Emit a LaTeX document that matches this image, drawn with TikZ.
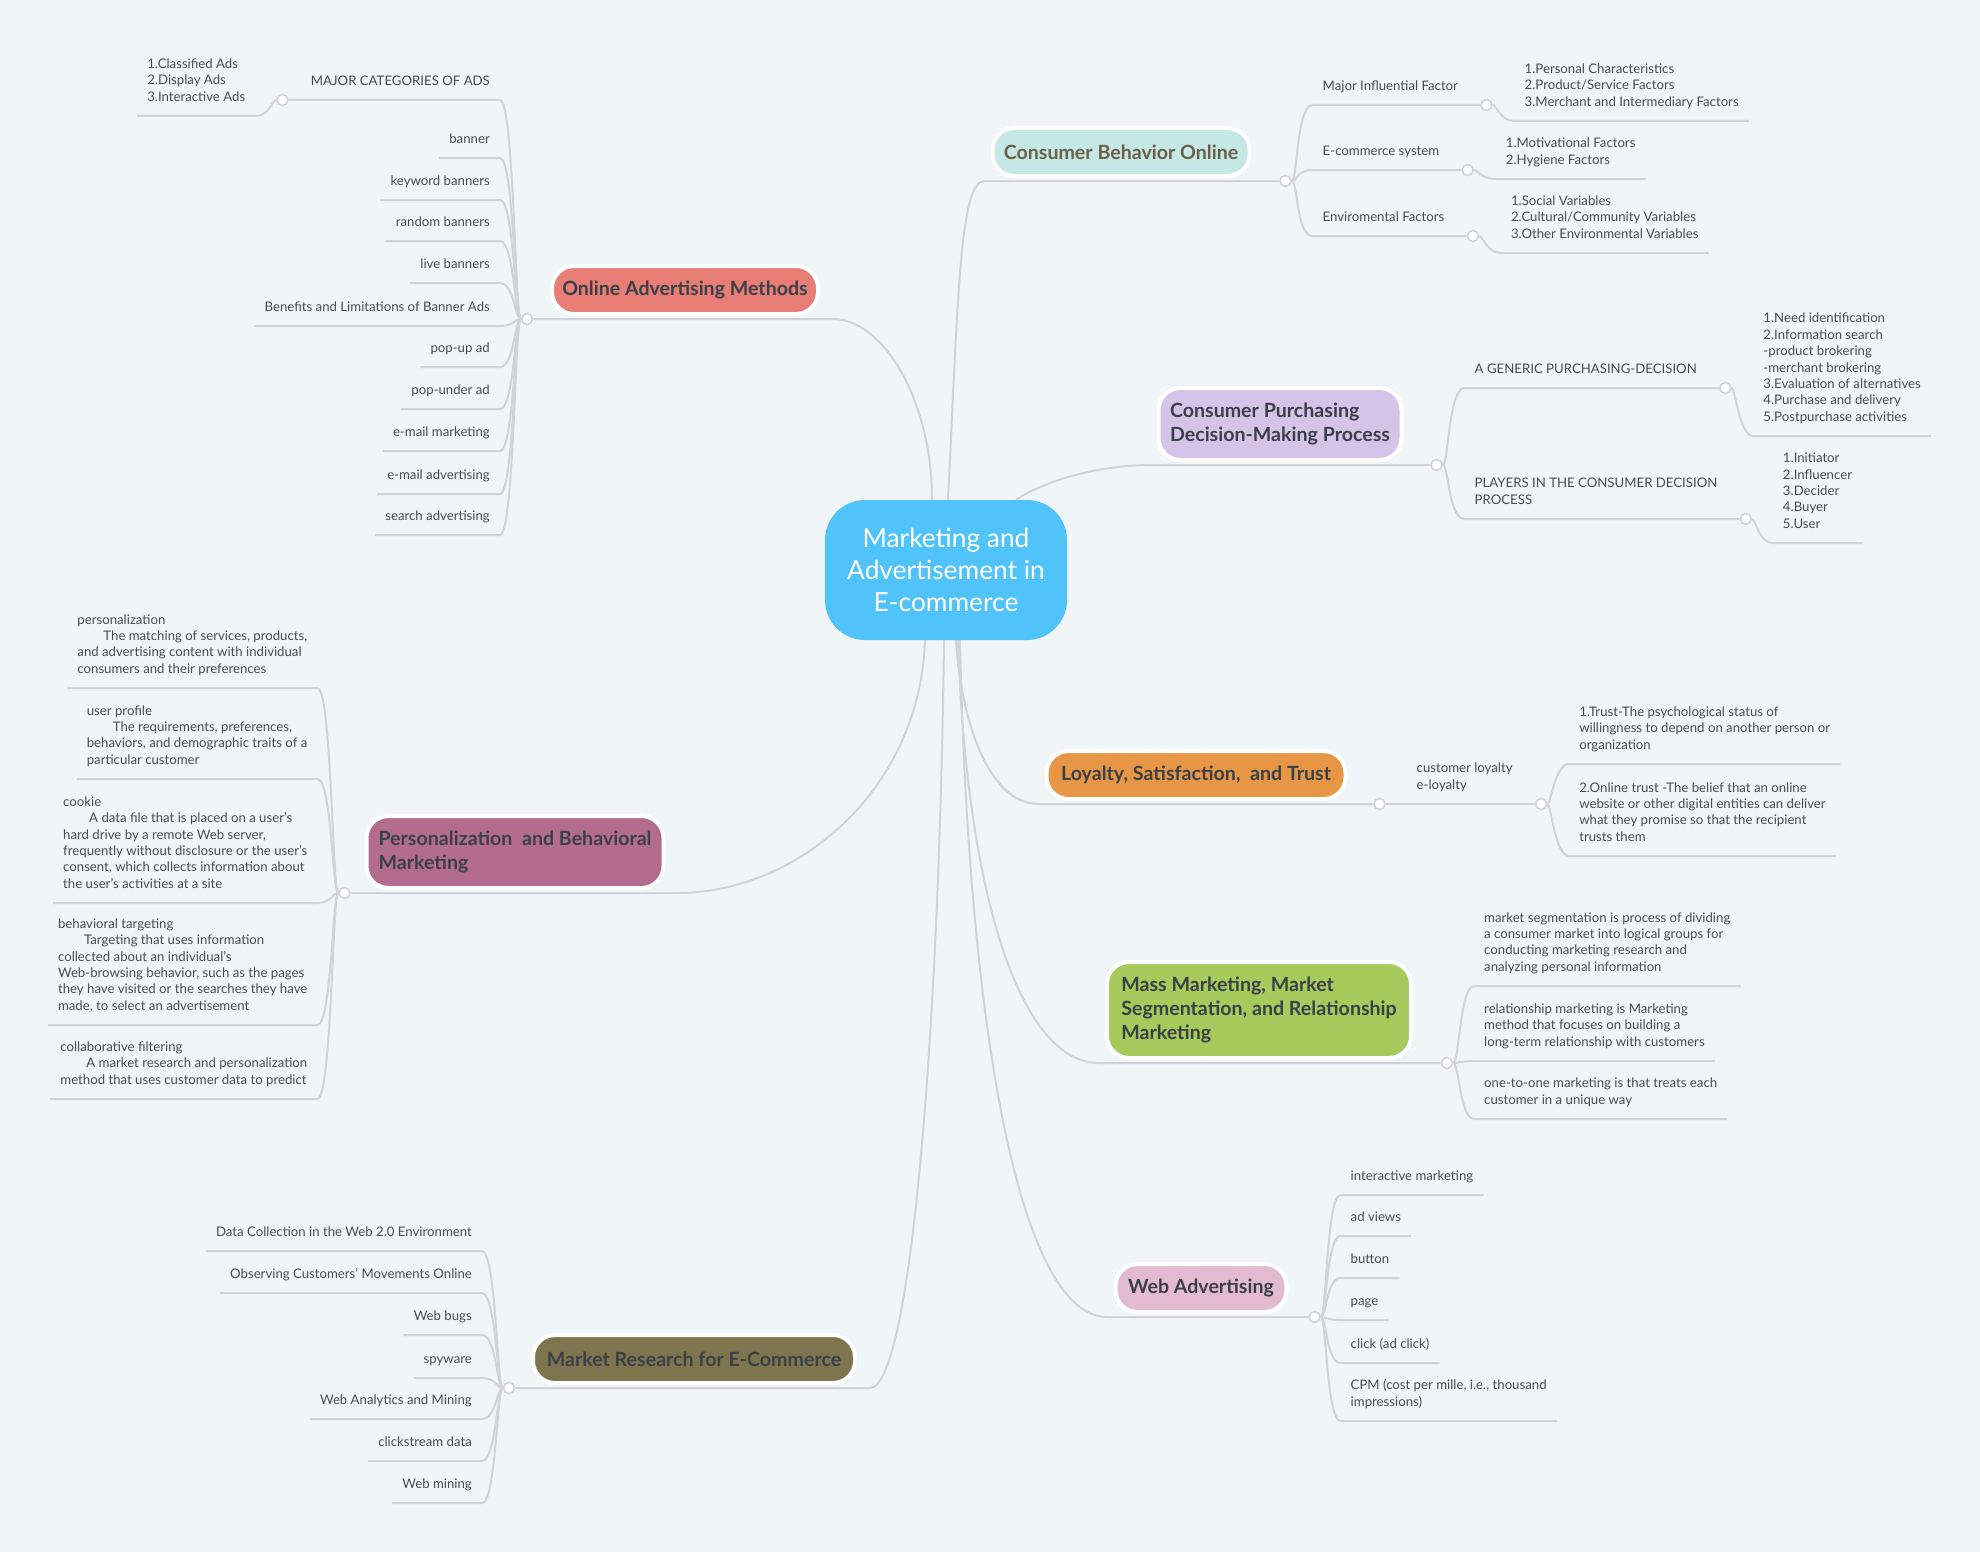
\documentclass[tikz,border=0pt]{standalone}
\usepackage{fontspec}
\setmainfont{Lato}
\usepackage{tikz}
\usetikzlibrary{positioning,backgrounds}
\definecolor{paper}{RGB}{240,245,248}
\definecolor{wire}{RGB}{208,212,217}
\definecolor{ink}{RGB}{58,64,72}
\definecolor{leafink}{RGB}{74,76,80}
\definecolor{rootblue}{RGB}{80,195,250}
\definecolor{behav}{RGB}{196,232,230}
\definecolor{behavink}{RGB}{110,94,72}
\definecolor{purch}{RGB}{214,196,232}
\definecolor{loyal}{RGB}{230,150,68}
\definecolor{massgreen}{RGB}{166,202,92}
\definecolor{webad}{RGB}{228,186,208}
\definecolor{onlad}{RGB}{232,125,118}
\definecolor{perso}{RGB}{180,108,140}
\definecolor{mresearch}{RGB}{126,117,78}

\begin{document}
\begin{tikzpicture}[x=1pt, y=-1pt,
  core/.style={fill=rootblue, rounded corners=40pt, minimum width=242pt,
               minimum height=140pt, text=white, align=center,
               font=\fontsize{26.3}{32}\selectfont},
  topic/.style={fill=#1, draw=white, line width=4pt, rounded corners=22pt,
                minimum height=48pt, outer sep=0pt, text=ink, align=left,
                font=\fontsize{19.6}{24}\selectfont\bfseries},
  leaf/.style={inner xsep=10pt, inner ysep=9.5pt, text=leafink, align=left,
               font=\fontsize{13.2}{16.4}\selectfont, execute at end node=\strut},
  leafr/.style={leaf, anchor=south west},
  leafl/.style={leaf, anchor=south east},
  joint/.style={circle, draw=wire, fill=white, line width=1.6pt, inner sep=0pt,
                minimum size=11pt},
  limb/.style={draw=wire, line width=2pt}]
  \useasboundingbox (0,0) rectangle (1980,1552);
  \begin{scope}[on background layer]
    \fill[paper] (0,0) rectangle (1980,1552);
  \end{scope}

  % centre and main topics
  \node[core] (mkt) at (946,570) {Marketing and\\Advertisement in\\E-commerce};
  \node[topic=behav, text=behavink, minimum width=257pt] (cbo) at (1121,152) {Consumer Behavior Online};
  \node[topic=purch, minimum width=243pt, minimum height=72pt] (cpd) at (1280,424) {Consumer Purchasing\\Decision-Making Process};
  \node[topic=loyal, minimum width=299pt] (loy) at (1196,775) {Loyalty, Satisfaction, \ and Trust};
  \node[topic=massgreen, minimum width=304pt, minimum height=96pt] (mass) at (1259,1010) {Mass Marketing, Market\\Segmentation, and Relationship\\Marketing};
  \node[topic=webad, minimum width=171pt] (web) at (1201,1288) {Web Advertising};
  \node[topic=onlad, minimum width=266pt] (oam) at (685,290) {Online Advertising Methods};
  \node[topic=perso, minimum width=297pt, minimum height=72pt] (pbm) at (515,852) {Personalization \ and Behavioral\\Marketing};
  \node[topic=mresearch, minimum width=322pt] (mr) at (694,1359) {Market Research for E-Commerce};

  % consumer behavior online
  \node[joint] (cboj) at ([xshift=36pt,yshift=-5pt]cbo.south east) {};
  \node[leafr] (influence) at ([xshift=27pt,yshift=76pt]cboj) {Major Influential Factor};
  \node[joint, right=12pt of influence.south east] (influencej) {};
  \node[leafr] (influencelist) at ([xshift=28pt,yshift=-16pt]influencej) {1.Personal Characteristics\\2.Product/Service Factors\\3.Merchant and Intermediary Factors};
  \node[leafr] (ecsys) at ([xshift=27pt,yshift=11pt]cboj) {E-commerce system};
  \node[joint, right=12pt of ecsys.south east] (ecsysj) {};
  \node[leafr] (ecsyslist) at ([xshift=28pt,yshift=-9pt]ecsysj) {1.Motivational Factors\\2.Hygiene Factors};
  \node[leafr] (enviro) at ([xshift=27pt,yshift=-55pt]cboj) {Enviromental Factors};
  \node[joint, right=12pt of enviro.south east] (enviroj) {};
  \node[leafr] (envirolist) at ([xshift=28pt,yshift=-17pt]enviroj) {1.Social Variables\\2.Cultural/Community Variables\\3.Other Environmental Variables};

  % consumer purchasing
  \node[joint] (cpdj) at ([xshift=35pt,yshift=-5pt]cpd.south east) {};
  \node[leafr] (generic) at ([xshift=28pt,yshift=77pt]cpdj) {A GENERIC PURCHASING-DECISION};
  \node[joint, right=12pt of generic.south east] (genericj) {};
  \node[leafr] (genericlist) at ([xshift=28pt,yshift=-48pt]genericj) {1.Need identification\\2.Information search\\-product brokering\\-merchant brokering\\3.Evaluation of alternatives\\4.Purchase and delivery\\5.Postpurchase activities};
  \node[leafr] (players) at ([xshift=28pt,yshift=-54pt]cpdj) {PLAYERS IN THE CONSUMER DECISION\\PROCESS};
  \node[joint, right=12pt of players.south east] (playersj) {};
  \node[leafr] (playerslist) at ([xshift=27pt,yshift=-24pt]playersj) {1.Initiator\\2.Influencer\\3.Decider\\4.Buyer\\5.User};

  % loyalty
  \node[joint] (loyj) at ([xshift=34pt,yshift=-5pt]loy.south east) {};
  \node[leafr] (eloyal) at ([xshift=27pt]loyj) {customer loyalty\\e-loyalty};
  \node[joint, right=12pt of eloyal.south east] (eloyalj) {};
  \node[leafr] (trust) at ([xshift=28pt,yshift=40pt]eloyalj) {1.Trust-The psychological status of\\willingness to depend on another person or\\organization};
  \node[leafr] (onlinetrust) at ([xshift=28pt,yshift=-52pt]eloyalj) {2.Online trust -The belief that an online\\website or other digital entities can deliver\\what they promise so that the recipient\\trusts them};

  % mass marketing
  \node[joint] (massj) at ([xshift=36pt,yshift=-5pt]mass.south east) {};
  \node[leafr] (segment) at ([xshift=27pt,yshift=77pt]massj) {market segmentation is process of dividing\\a consumer market into logical groups for\\conducting marketing research and\\analyzing personal information};
  \node[leafr] (relation) at ([xshift=27pt,yshift=2pt]massj) {relationship marketing is Marketing\\method that focuses on building a\\long-term relationship with customers};
  \node[leafr] (onetoone) at ([xshift=27pt,yshift=-56pt]massj) {one-to-one marketing is that treats each\\customer in a unique way};

  % web advertising
  \node[joint] (webj) at ([xshift=28pt,yshift=-5pt]web.south east) {};
  \node[leafr] (interact) at ([xshift=26pt,yshift=122pt]webj) {interactive marketing};
  \node[leafr] (adviews) at ([xshift=26pt,yshift=81pt]webj) {ad views};
  \node[leafr] (button) at ([xshift=26pt,yshift=39pt]webj) {button};
  \node[leafr] (page) at ([xshift=26pt,yshift=-3pt]webj) {page};
  \node[leafr] (click) at ([xshift=26pt,yshift=-46pt]webj) {click (ad click)};
  \node[leafr] (cpm) at ([xshift=26pt,yshift=-104pt]webj) {CPM (cost per mille, i.e., thousand\\impressions)};

  % online advertising methods
  \node[joint] (oamj) at ([xshift=-25pt,yshift=-5pt]oam.south west) {};
  \node[leafl] (majorcat) at ([xshift=-27pt,yshift=219pt]oamj) {MAJOR CATEGORIES OF ADS};
  \node[joint, left=12pt of majorcat.south west] (majorcatj) {};
  \node[leafl] (adtypes) at ([xshift=-27pt,yshift=-16pt]majorcatj) {1.Classified Ads\\2.Display Ads\\3.Interactive Ads};
  \node[leafl] (banner) at ([xshift=-27pt,yshift=161pt]oamj) {banner};
  \node[leafl] (kwban) at ([xshift=-27pt,yshift=119pt]oamj) {keyword banners};
  \node[leafl] (rndban) at ([xshift=-27pt,yshift=78pt]oamj) {random banners};
  \node[leafl] (liveban) at ([xshift=-27pt,yshift=36pt]oamj) {live banners};
  \node[leafl] (benefits) at ([xshift=-27pt,yshift=-7pt]oamj) {Benefits and Limitations of Banner Ads};
  \node[leafl] (popup) at ([xshift=-27pt,yshift=-48pt]oamj) {pop-up ad};
  \node[leafl] (popunder) at ([xshift=-27pt,yshift=-90pt]oamj) {pop-under ad};
  \node[leafl] (mailmkt) at ([xshift=-27pt,yshift=-132pt]oamj) {e-mail marketing};
  \node[leafl] (mailadv) at ([xshift=-27pt,yshift=-175pt]oamj) {e-mail advertising};
  \node[leafl] (searchadv) at ([xshift=-27pt,yshift=-216pt]oamj) {search advertising};

  % personalization
  \node[joint] (pbmj) at ([xshift=-22pt,yshift=-5pt]pbm.south west) {};
  \node[leafl] (personal) at ([xshift=-27pt,yshift=205pt]pbmj) {personalization\\\hspace*{26pt}The matching of services, products,\\and advertising content with individual\\consumers and their preferences};
  \node[leafl] (profile) at ([xshift=-27pt,yshift=114pt]pbmj) {user profile\\\hspace*{26pt}The requirements, preferences,\\behaviors, and demographic traits of a\\particular customer};
  \node[leafl] (cookie) at ([xshift=-27pt,yshift=-10pt]pbmj) {cookie\\\hspace*{26pt}A data file that is placed on a user’s\\hard drive by a remote Web server,\\frequently without disclosure or the user’s\\consent, which collects information about\\the user’s activities at a site};
  \node[leafl] (behtarget) at ([xshift=-27pt,yshift=-132pt]pbmj) {behavioral targeting\\\hspace*{26pt}Targeting that uses information\\collected about an individual’s\\Web-browsing behavior, such as the pages\\they have visited or the searches they have\\made, to select an advertisement};
  \node[leafl] (collab) at ([xshift=-27pt,yshift=-206pt]pbmj) {collaborative filtering\\\hspace*{26pt}A market research and personalization\\method that uses customer data to predict};

  % market research
  \node[joint] (mrj) at ([xshift=-24pt,yshift=-5pt]mr.south west) {};
  \node[leafl] (datacoll) at ([xshift=-27pt,yshift=137pt]mrj) {Data Collection in the Web 2.0 Environment};
  \node[leafl] (observe) at ([xshift=-27pt,yshift=95pt]mrj) {Observing Customers’ Movements Online};
  \node[leafl] (webbugs) at ([xshift=-27pt,yshift=53pt]mrj) {Web bugs};
  \node[leafl] (spyware) at ([xshift=-27pt,yshift=10pt]mrj) {spyware};
  \node[leafl] (analytics) at ([xshift=-27pt,yshift=-31pt]mrj) {Web Analytics and Mining};
  \node[leafl] (clickstream) at ([xshift=-27pt,yshift=-73pt]mrj) {clickstream data};
  \node[leafl] (webmining) at ([xshift=-27pt,yshift=-115pt]mrj) {Web mining};

  \begin{scope}[on background layer]
    % centre to topics
    \draw[limb] ([xshift=2pt]mkt.north) .. controls +(10,-200) and +(-25,0) .. ([xshift=-8pt,yshift=-5pt]cbo.south west) -- (cboj);
    \draw[limb] ([xshift=70pt]mkt.north) .. controls +(30,-20) and +(-50,0) .. ([xshift=-8pt,yshift=-5pt]cpd.south west) -- (cpdj);
    \draw[limb] ([xshift=10pt]mkt.south) .. controls +(5,80) and +(-50,0) .. ([xshift=-8pt,yshift=-5pt]loy.south west) -- (loyj);
    \draw[limb] ([xshift=12pt]mkt.south) .. controls +(8,250) and +(-80,0) .. ([xshift=-8pt,yshift=-5pt]mass.south west) -- (massj);
    \draw[limb] ([xshift=14pt]mkt.south) .. controls +(8,380) and +(-90,0) .. ([xshift=-8pt,yshift=-5pt]web.south west) -- (webj);
    \draw[limb] ([xshift=-14pt]mkt.north) .. controls +(0,-100) and +(50,0) .. ([xshift=15pt,yshift=-5pt]oam.south east) -- (oamj);
    \draw[limb] ([xshift=-21pt]mkt.south) .. controls +(-5,150) and +(120,0) .. ([xshift=14pt,yshift=-5pt]pbm.south east) -- (pbmj);
    \draw[limb] ([xshift=-2pt]mkt.south) .. controls +(-5,400) and +(40,0) .. ([xshift=15pt,yshift=-5pt]mr.south east) -- (mrj);

    % consumer behavior online
    \draw[limb] (cboj) .. controls +(12,0) and +(-16,0) .. (influence.south west) -- (influencej);
    \draw[limb] (cboj) .. controls +(12,0) and +(-16,0) .. (ecsys.south west) -- (ecsysj);
    \draw[limb] (cboj) .. controls +(12,0) and +(-16,0) .. (enviro.south west) -- (enviroj);
    \draw[limb] (influencej) .. controls +(10,0) and +(-14,0) .. (influencelist.south west) -- (influencelist.south east);
    \draw[limb] (ecsysj) .. controls +(10,0) and +(-14,0) .. (ecsyslist.south west) -- (ecsyslist.south east);
    \draw[limb] (enviroj) .. controls +(10,0) and +(-14,0) .. (envirolist.south west) -- (envirolist.south east);

    % consumer purchasing
    \draw[limb] (cpdj) .. controls +(12,0) and +(-16,0) .. (generic.south west) -- (genericj);
    \draw[limb] (cpdj) .. controls +(12,0) and +(-16,0) .. (players.south west) -- (playersj);
    \draw[limb] (genericj) .. controls +(10,0) and +(-14,0) .. (genericlist.south west) -- (genericlist.south east);
    \draw[limb] (playersj) .. controls +(10,0) and +(-14,0) .. (playerslist.south west) -- (playerslist.south east);

    % loyalty
    \draw[limb] (loyj) -- (eloyal.south west) -- (eloyalj);
    \draw[limb] (eloyalj) .. controls +(10,0) and +(-14,0) .. (trust.south west) -- (trust.south east);
    \draw[limb] (eloyalj) .. controls +(10,0) and +(-14,0) .. (onlinetrust.south west) -- (onlinetrust.south east);

    % mass marketing
    \draw[limb] (massj) .. controls +(12,0) and +(-14,0) .. (segment.south west) -- (segment.south east);
    \draw[limb] (massj) .. controls +(12,0) and +(-14,0) .. (relation.south west) -- (relation.south east);
    \draw[limb] (massj) .. controls +(12,0) and +(-14,0) .. (onetoone.south west) -- (onetoone.south east);

    % web advertising
    \draw[limb] (webj) .. controls +(12,0) and +(-14,0) .. (interact.south west) -- (interact.south east);
    \draw[limb] (webj) .. controls +(12,0) and +(-14,0) .. (adviews.south west) -- (adviews.south east);
    \draw[limb] (webj) .. controls +(12,0) and +(-14,0) .. (button.south west) -- (button.south east);
    \draw[limb] (webj) .. controls +(12,0) and +(-14,0) .. (page.south west) -- (page.south east);
    \draw[limb] (webj) .. controls +(12,0) and +(-14,0) .. (click.south west) -- (click.south east);
    \draw[limb] (webj) .. controls +(12,0) and +(-14,0) .. (cpm.south west) -- (cpm.south east);

    % online advertising methods
    \draw[limb] (oamj) .. controls +(-12,0) and +(14,0) .. (majorcat.south east) -- (majorcatj);
    \draw[limb] (majorcatj) .. controls +(-10,0) and +(14,0) .. (adtypes.south east) -- (adtypes.south west);
    \draw[limb] (oamj) .. controls +(-12,0) and +(14,0) .. (banner.south east) -- (banner.south west);
    \draw[limb] (oamj) .. controls +(-12,0) and +(14,0) .. (kwban.south east) -- (kwban.south west);
    \draw[limb] (oamj) .. controls +(-12,0) and +(14,0) .. (rndban.south east) -- (rndban.south west);
    \draw[limb] (oamj) .. controls +(-12,0) and +(14,0) .. (liveban.south east) -- (liveban.south west);
    \draw[limb] (oamj) .. controls +(-12,0) and +(14,0) .. (benefits.south east) -- (benefits.south west);
    \draw[limb] (oamj) .. controls +(-12,0) and +(14,0) .. (popup.south east) -- (popup.south west);
    \draw[limb] (oamj) .. controls +(-12,0) and +(14,0) .. (popunder.south east) -- (popunder.south west);
    \draw[limb] (oamj) .. controls +(-12,0) and +(14,0) .. (mailmkt.south east) -- (mailmkt.south west);
    \draw[limb] (oamj) .. controls +(-12,0) and +(14,0) .. (mailadv.south east) -- (mailadv.south west);
    \draw[limb] (oamj) .. controls +(-12,0) and +(14,0) .. (searchadv.south east) -- (searchadv.south west);

    % personalization
    \draw[limb] (pbmj) .. controls +(-12,0) and +(14,0) .. (personal.south east) -- (personal.south west);
    \draw[limb] (pbmj) .. controls +(-12,0) and +(14,0) .. (profile.south east) -- (profile.south west);
    \draw[limb] (pbmj) .. controls +(-12,0) and +(14,0) .. (cookie.south east) -- (cookie.south west);
    \draw[limb] (pbmj) .. controls +(-12,0) and +(14,0) .. (behtarget.south east) -- (behtarget.south west);
    \draw[limb] (pbmj) .. controls +(-12,0) and +(14,0) .. (collab.south east) -- (collab.south west);

    % market research
    \draw[limb] (mrj) .. controls +(-12,0) and +(14,0) .. (datacoll.south east) -- (datacoll.south west);
    \draw[limb] (mrj) .. controls +(-12,0) and +(14,0) .. (observe.south east) -- (observe.south west);
    \draw[limb] (mrj) .. controls +(-12,0) and +(14,0) .. (webbugs.south east) -- (webbugs.south west);
    \draw[limb] (mrj) .. controls +(-12,0) and +(14,0) .. (spyware.south east) -- (spyware.south west);
    \draw[limb] (mrj) .. controls +(-12,0) and +(14,0) .. (analytics.south east) -- (analytics.south west);
    \draw[limb] (mrj) .. controls +(-12,0) and +(14,0) .. (clickstream.south east) -- (clickstream.south west);
    \draw[limb] (mrj) .. controls +(-12,0) and +(14,0) .. (webmining.south east) -- (webmining.south west);
  \end{scope}
\end{tikzpicture}
\end{document}
